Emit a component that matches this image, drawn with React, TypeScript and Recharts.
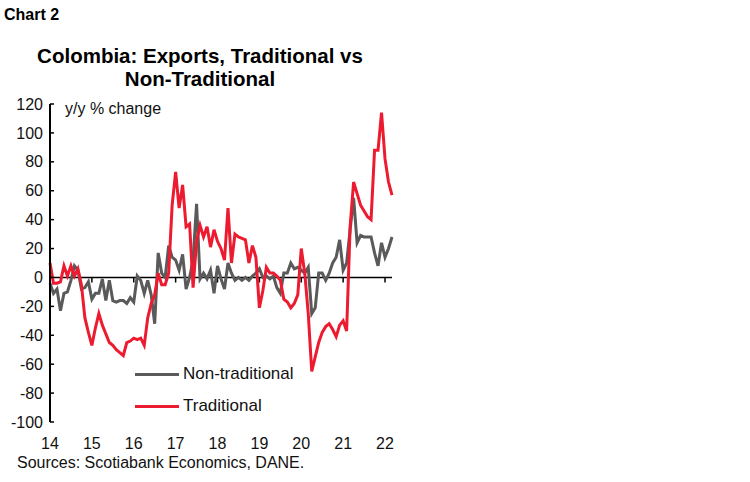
import React from "react";
import {
  LineChart,
  Line,
  XAxis,
  YAxis,
  ReferenceLine,
} from "recharts";

// monthly, Jan 2014 .. Mar 2022 (y/y % change)
const yearLabels = ["14", "15", "16", "17", "18", "19", "20", "21", "22"];
const yTicks = [-100, -80, -60, -40, -20, 0, 20, 40, 60, 80, 100, 120];

const nonTraditional = [
  -4, -11, -8, -23, -11, -10, -2, 8, 5, -8, -7, -3,
  -15, -11, -11, -1, -16, -2, -16, -17, -16, -16, -18, -14,
  -17, 1, -2, -11, -2, -12, -32, 17, 3, 0, 22, 14,
  12, 5, 16, -8, 0, 12, 51, -1, 3, -1, 5, -11,
  8, -1, -8, 10, 3, -2, 0, -2, 0, -2, 1, 3,
  6, 0, 1, -1, 1, -7, -11, 3, 3, 10, 6, 7,
  5, 3, 7, -25, -21, 3, 3, -2, 3, 10, 14, 26,
  5, 10, 33, 55, 24, 29, 28, 28, 28, 17, 8, 24,
  14, 20, 28,
];

const traditional = [
  10, -4, -4, -3, 8, 1, 8, 1, 6, -5, -28, -38,
  -47, -35, -25, -33, -39, -45, -47, -50, -52, -54, -45, -44,
  -42, -43, -42, -47, -28, -18, -12, 3, -5, -5, 3, 50,
  73, 48, 64, 35, 37, -7, 25, 36, 28, 35, 21, 33,
  25, 20, 12, 48, 10, 30, 28, 27, 26, 10, 22, 14,
  -21, -9, 7, 3, 3, 1, -2, -15, -17, -21, -18, -12,
  20, 3, -25, -65, -55, -45, -38, -34, -32, -36, -41, -33,
  -30, -37, 35, 66, 58, 50, 46, 42, 40, 88, 88, 114,
  82, 66, 57,
];

const data = nonTraditional.map((v, i) => ({
  i,
  nonTraditional: v,
  traditional: traditional[i],
}));

const yearTicks = yearLabels.map((_, k) => k * 12);

const RED = "#ED1B2F";
const GREY = "#5A5A5A";
const FONT = "'Liberation Sans', Arial, sans-serif";

const series = [
  { name: "Non-traditional", color: GREY },
  { name: "Traditional", color: RED },
];

const YTick = (props: any) => {
  const { x, y, payload } = props;
  return (
    <g>
      <text
        x={x}
        y={y}
        dy="0.35em"
        textAnchor="end"
        fontSize={16}
        fontFamily={FONT}
        fill="#111"
      >
        {payload.value}
      </text>
      <line x1={x + 7} x2={x + 11} y1={y} y2={y} stroke="#000" strokeWidth={1.5} />
    </g>
  );
};

export default function App() {
  return (
    <div style={{ position: "absolute", left: 0, top: 0, width: 750, height: 482, background: "#fff" }}>
      <div style={{ position: "absolute", left: 4, top: 6, fontFamily: FONT, fontWeight: "bold", fontSize: 16, color: "#000" }}>
        Chart 2
      </div>
      <div
        style={{
          position: "absolute",
          left: 0,
          width: 400,
          top: 44,
          textAlign: "center",
          fontFamily: FONT,
          fontWeight: "bold",
          fontSize: 20.5,
          lineHeight: "23px",
          color: "#000",
        }}
      >
        Colombia: Exports, Traditional vs
        <br />
        Non-Traditional
      </div>
      <LineChart
        width={750}
        height={482}
        data={data}
        margin={{ top: 104, right: 358, bottom: 30, left: 0 }}
      >
        <XAxis
          type="number"
          dataKey="i"
          domain={[0, 98]}
          ticks={yearTicks}
          interval={0}
          tickFormatter={(v: number) => yearLabels[Math.round(v / 12)]}
          axisLine={false}
          tickLine={false}
          tickMargin={10}
          height={30}
          tick={{ fontSize: 16, fontFamily: FONT, fill: "#111" }}
        />
        <YAxis
          type="number"
          domain={[-100, 120]}
          ticks={yTicks}
          interval={0}
          width={50}
          axisLine={{ stroke: "#000", strokeWidth: 2 }}
          tickLine={false}
          tickSize={0}
          tickMargin={7}
          tick={<YTick />}
        />
        <ReferenceLine y={0} stroke="#000" strokeWidth={1.5} />
        {yearTicks.slice(1).map((t) => (
          <ReferenceLine
            key={t}
            segment={[
              { x: t, y: 0 },
              { x: t, y: -3.5 },
            ]}
            stroke="#000"
            strokeWidth={1.5}
          />
        ))}
        <Line
          dataKey="nonTraditional"
          name="Non-traditional"
          stroke={GREY}
          strokeWidth={3}
          dot={false}
          type="linear"
          isAnimationActive={false}
        />
        <Line
          dataKey="traditional"
          name="Traditional"
          stroke={RED}
          strokeWidth={3}
          dot={false}
          type="linear"
          isAnimationActive={false}
        />
      </LineChart>
      <div style={{ position: "absolute", left: 65, top: 100, fontFamily: FONT, fontSize: 16, color: "#111" }}>
        y/y % change
      </div>
      <div style={{ position: "absolute", left: 135, top: 358, fontFamily: FONT, fontSize: 17, color: "#111" }}>
        {series.map((s) => (
          <div key={s.name} style={{ display: "flex", alignItems: "center", height: 32 }}>
            <span style={{ display: "inline-block", width: 44, height: 3, background: s.color, marginRight: 4 }} />
            <span>{s.name}</span>
          </div>
        ))}
      </div>
      <div style={{ position: "absolute", left: 17, top: 454, fontFamily: FONT, fontSize: 16, color: "#111" }}>
        Sources: Scotiabank Economics, DANE.
      </div>
    </div>
  );
}
